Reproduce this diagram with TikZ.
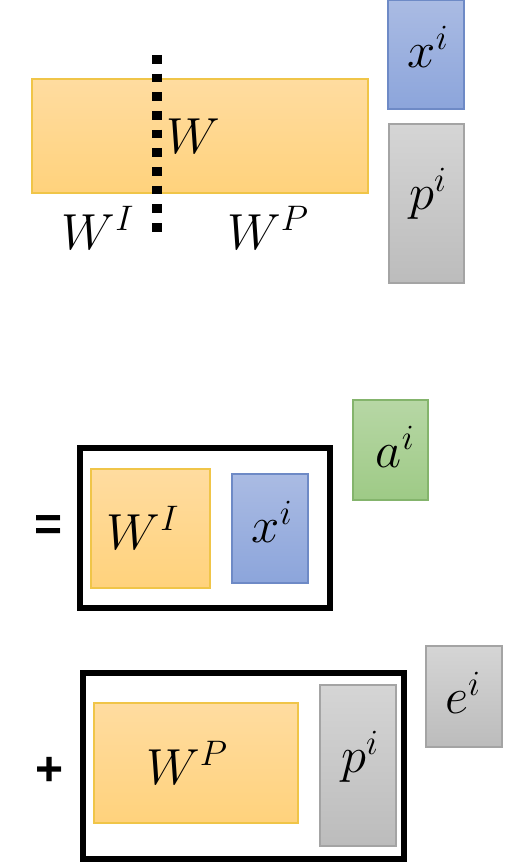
\RequirePackage{fix-cm}
\documentclass[tikz,border=0pt]{standalone}
\usepackage{fontspec}
\usepackage{xcolor}
\usepackage{tikz}
\usetikzlibrary{positioning}
\newfontfamily\opfont{Liberation Sans}
\definecolor{pesonaranja}{HTML}{FFDCA0}
\definecolor{pesonaranjab}{HTML}{FFD27C}
\definecolor{pesoborde}{HTML}{F0C548}
\definecolor{entradaazul}{HTML}{AABBE3}
\definecolor{entradaazulb}{HTML}{8CA5DB}
\definecolor{entradaborde}{HTML}{6E8AC6}
\definecolor{posgris}{HTML}{D5D5D5}
\definecolor{posgrisb}{HTML}{BCBCBC}
\definecolor{posborde}{HTML}{A4A4A4}
\definecolor{salidaverde}{HTML}{B7D7A5}
\definecolor{salidaverdeb}{HTML}{9ECA86}
\definecolor{salidaborde}{HTML}{84B46C}

\begin{document}
\begin{tikzpicture}[
    x=0.75pt, y=-0.75pt,
    every node/.style={font=\fontsize{38}{44}\selectfont, inner sep=0pt},
    pesobox/.style={top color=pesonaranja, bottom color=pesonaranjab, draw=pesoborde, line width=0.8pt},
    entradabox/.style={top color=entradaazul, bottom color=entradaazulb, draw=entradaborde, line width=0.8pt},
    posbox/.style={top color=posgris, bottom color=posgrisb, draw=posborde, line width=0.8pt},
    salidabox/.style={top color=salidaverde, bottom color=salidaverdeb, draw=salidaborde, line width=0.8pt},
    marco/.style={draw=black, line width=4.5pt},
    signo/.style={font=\opfont\bfseries\fontsize{36}{40}\selectfont}
]
\useasboundingbox (0,0) rectangle (529,863);

\shade[pesobox] (32,79) rectangle (368,193);
\draw[line width=7pt, dash pattern=on 6.4pt off 7.6pt] (157,55) -- (157,233);
\node (pesoW) at (193,136) {$W$};
\node (pesoWI) at (98,228) {$W^I$};
\node (pesoWP) at (268,228) {$W^P$};
\shade[entradabox] (388,0) rectangle (464,109);
\node (entradaX) at (428,47) {$x^i$};
\shade[posbox] (389,124) rectangle (464,283);
\node (posP) at (428,194) {$p^i$};

\shade[salidabox] (353,400) rectangle (428,500);
\node (salidaA) at (395,447) {$a^i$};
\node[signo] (igual) at (49,528) {=};
\draw[marco] (80,448) rectangle (330,608);
\shade[pesobox] (91,469) rectangle (210,588);
\node (marcoWI) at (143,528) {$W^I$};
\shade[entradabox] (232,474) rectangle (308,583);
\node (marcoX) at (272,522) {$x^i$};

\shade[posbox] (426,646) rectangle (502,747);
\node (salidaE) at (463,693) {$e^i$};
\node[signo] (mas) at (50,771) {+};
\draw[marco] (83,673) rectangle (404,859);
\shade[pesobox] (94,703) rectangle (298,823);
\node (marcoWP) at (187,763) {$W^P$};
\shade[posbox] (320,685) rectangle (396,846);
\node (marcoP) at (360,757) {$p^i$};
\end{tikzpicture}
\end{document}
